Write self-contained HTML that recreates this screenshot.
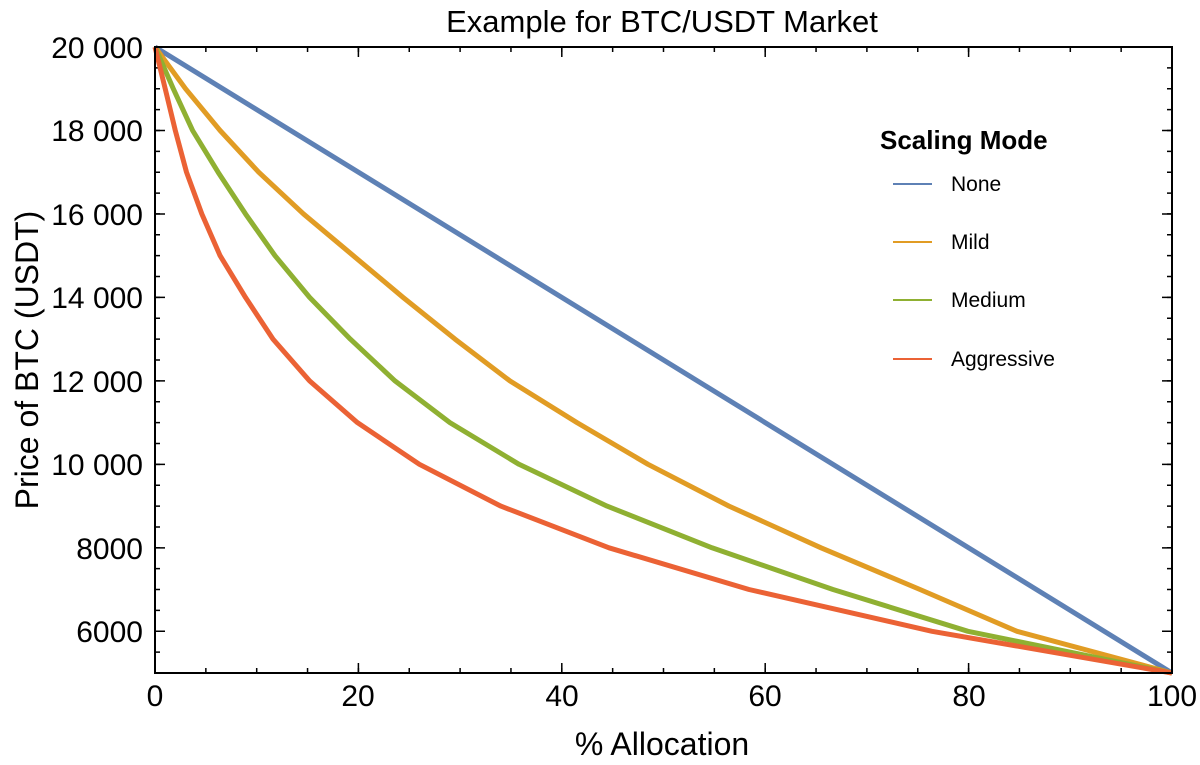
<!DOCTYPE html>
<html><head><meta charset="utf-8"><style>
html,body{margin:0;padding:0;background:#fff;}
svg{display:block;font-family:"Liberation Sans",Arial,sans-serif;}
</style></head><body>
<svg width="1200" height="765" viewBox="0 0 1200 765" xmlns="http://www.w3.org/2000/svg">
<rect width="1200" height="765" fill="#fff"/>
<text x="662" y="32" font-size="31" text-anchor="middle">Example for BTC/USDT Market</text>
<g fill="none" stroke="#000">
<line x1="157.5" y1="46.25" x2="157.5" y2="674" stroke-width="5" stroke-dasharray="1.5 19.367"/>
<line x1="160" y1="46.25" x2="160" y2="674" stroke-width="10" stroke-dasharray="1.5 81.97"/>
<line x1="1169.5" y1="46.25" x2="1169.5" y2="674" stroke-width="5" stroke-dasharray="1.5 19.367"/>
<line x1="1167" y1="46.25" x2="1167" y2="674" stroke-width="10" stroke-dasharray="1.5 81.97"/>
<line x1="154.25" y1="670.5" x2="1174" y2="670.5" stroke-width="5" stroke-dasharray="1.5 49.35"/>
<line x1="154.25" y1="668" x2="1174" y2="668" stroke-width="10" stroke-dasharray="1.5 201.9"/>
<line x1="154.25" y1="49.5" x2="1174" y2="49.5" stroke-width="5" stroke-dasharray="1.5 49.35"/>
<line x1="154.25" y1="52" x2="1174" y2="52" stroke-width="10" stroke-dasharray="1.5 201.9"/>
</g>
<g fill="none" stroke-width="5" stroke-linejoin="round">
<polyline stroke="#5e81b5" points="155,47 1172,673"/>
<polyline stroke="#e19c24" points="155,47 185.5,88.7 220.1,130.5 258.7,172.2 303.5,213.9 353.3,255.7 403.1,297.4 455,339.1 509.9,380.9 577,422.6 648,464.3 729,506.1 821,547.8 920,589.5 1017,631.3 1172,673"/>
<polyline stroke="#8fb032" points="155,47 173.3,88.7 192.6,130.5 218.1,172.2 245.5,213.9 275,255.7 309.6,297.4 350.3,339.1 395,380.9 449.9,422.6 519,464.3 607,506.1 712,547.8 833,589.5 968,631.3 1172,673"/>
<polyline stroke="#eb6235" points="155,47 165.2,88.7 175.3,130.5 186.5,172.2 201.8,213.9 220.1,255.7 245.5,297.4 273,339.1 309.6,380.9 357.4,422.6 419.4,464.3 500.8,506.1 609,547.8 749,589.5 932,631.3 1172,673"/>
</g>
<rect x="155" y="47" width="1017" height="626" fill="none" stroke="#000" stroke-width="2"/>
<g font-size="30" text-anchor="end">
<text x="143" y="58">20 000</text>
<text x="143" y="141">18 000</text>
<text x="143" y="225">16 000</text>
<text x="143" y="308">14 000</text>
<text x="143" y="392">12 000</text>
<text x="143" y="475">10 000</text>
<text x="143" y="559">8000</text>
<text x="143" y="642">6000</text>
</g>
<g font-size="30" text-anchor="middle">
<text x="155" y="706">0</text>
<text x="358" y="706">20</text>
<text x="562" y="706">40</text>
<text x="765" y="706">60</text>
<text x="969" y="706">80</text>
<text x="1172" y="706">100</text>
</g>
<text x="662" y="755" font-size="32" text-anchor="middle">% Allocation</text>
<text transform="translate(38,360) rotate(-90)" font-size="32" text-anchor="middle">Price of BTC (USDT)</text>
<text x="880" y="149" font-size="26" font-weight="bold">Scaling Mode</text>
<g stroke-width="2">
<line x1="893" y1="184" x2="932" y2="184" stroke="#5e81b5"/>
<line x1="893" y1="242" x2="932" y2="242" stroke="#e19c24"/>
<line x1="893" y1="300" x2="932" y2="300" stroke="#8fb032"/>
<line x1="893" y1="359" x2="932" y2="359" stroke="#eb6235"/>
</g>
<g font-size="21">
<text x="951" y="191">None</text>
<text x="951" y="249">Mild</text>
<text x="951" y="307">Medium</text>
<text x="951" y="366">Aggressive</text>
</g>
</svg>
</body></html>
